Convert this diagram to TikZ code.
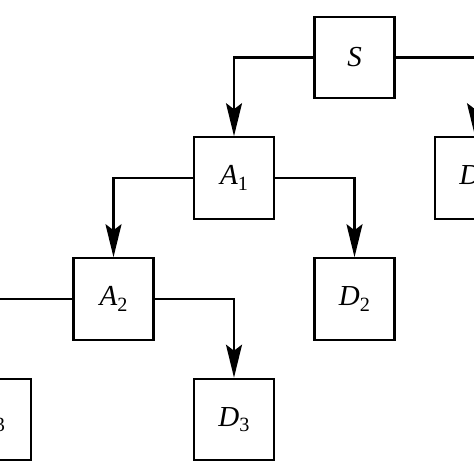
\documentclass[tikz,border=0pt]{standalone}
\usepackage{fontspec}
\setmainfont{Liberation Serif}
\usetikzlibrary{arrows.meta}
\newcommand{\lbl}[2]{\textit{#1}\raisebox{-3.2pt}{\fontsize{11.5}{12}\selectfont #2}}
\tikzset{
	blk/.style={draw, line width=1.2pt, minimum width=1.6cm, minimum height=1.63cm, inner sep=0pt, font=\fontsize{16.5}{19}\selectfont},
	lnk/.style={line width=1.2pt, -{Stealth[length=0.66cm, width=0.32cm, inset=0.12cm]}}
}
\begin{document}
\begin{tikzpicture}
	\useasboundingbox (0,0) rectangle (9.48,9.48);
	%ebene 0
	\node[blk] (s) at (7.09,8.33) {\textit{S}};
	%ebene 1
	\node[blk] (a1) at (4.68,5.92) {\lbl{A}{1}};
	\node[blk] (d1) at (9.50,5.92) {\lbl{D}{1}};
	%ebene 2
	\node[blk] (a2) at (2.27,3.50) {\lbl{A}{2}};
	\node[blk] (d2) at (7.09,3.50) {\lbl{D}{2}};
	%ebene 3
	\node[blk] (a3) at (-0.18,1.09) {\lbl{A}{3}};
	\node[blk] (d3) at (4.68,1.09) {\lbl{D}{3}};
	%verbindungen
	\draw[lnk] (s.west) -| (a1.north);
	\draw[lnk] (s.east) -| (d1.north);
	\draw[lnk] (a1.west) -| (a2.north);
	\draw[lnk] (a1.east) -| (d2.north);
	\draw[lnk] (a2.west) -| (a3.north);
	\draw[lnk] (a2.east) -| (d3.north);
\end{tikzpicture}
\end{document}
